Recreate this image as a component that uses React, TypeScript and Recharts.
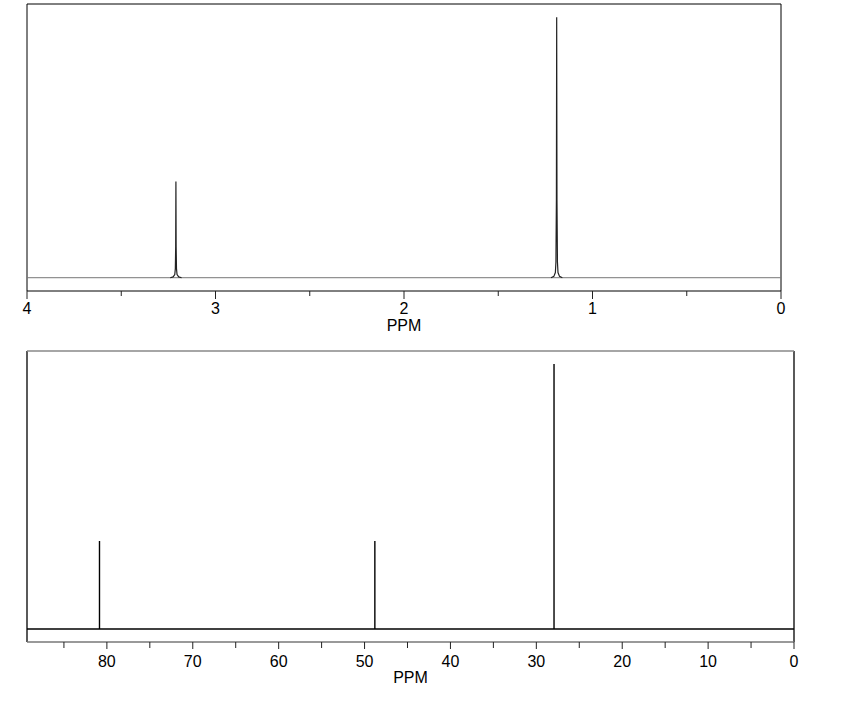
import React from 'react';
import { LineChart, Line, XAxis, YAxis, ReferenceLine } from 'recharts';

// 1H spectrum (ppm, relative intensity)
const hTicks = [4, 3.5, 3, 2.5, 2, 1.5, 1, 0.5, 0];
const hDomainX = [0, 4];
const hDomainY = [-5.1, 105.1];
const hBaseline = [
  { x: 4, y: 0 },
  { x: 0, y: 0 },
];
const hPeakA = [
  { x: 3.24, y: 0 },
  { x: 3.225, y: 0.3 },
  { x: 3.216, y: 1.2 },
  { x: 3.213, y: 3.5 },
  { x: 3.2112, y: 12 },
  { x: 3.21, y: 36.9 },
  { x: 3.2088, y: 12 },
  { x: 3.207, y: 3.5 },
  { x: 3.204, y: 1.2 },
  { x: 3.195, y: 0.3 },
  { x: 3.18, y: 0 },
];
const hPeakB = [
  { x: 1.22, y: 0 },
  { x: 1.205, y: 0.5 },
  { x: 1.197, y: 2 },
  { x: 1.194, y: 6 },
  { x: 1.1915, y: 30 },
  { x: 1.19, y: 100 },
  { x: 1.1885, y: 30 },
  { x: 1.186, y: 6 },
  { x: 1.183, y: 2 },
  { x: 1.175, y: 0.5 },
  { x: 1.16, y: 0 },
];

// 13C spectrum (ppm, relative intensity)
const cTicks = [85, 80, 75, 70, 65, 60, 55, 50, 45, 40, 35, 30, 25, 20, 15, 10, 5, 0];
const cDomainX = [0, 89.3];
const cDomainY = [-4.9, 104.9];
const cBaseline = [
  { x: 89.3, y: 0 },
  { x: 0, y: 0 },
];
const cPeakA = [
  { x: 80.86, y: 0 },
  { x: 80.86, y: 33.2 },
];
const cPeakB = [
  { x: 48.8, y: 0 },
  { x: 48.8, y: 33.2 },
];
const cPeakC = [
  { x: 27.94, y: 0 },
  { x: 27.94, y: 100 },
];

const FONT = "'Liberation Sans', Arial, Helvetica, sans-serif";

const makeTick =
  (isMajor: (v: number) => boolean, majorLen: number, minorLen: number, textDy: number, fontSize: number) =>
  (props: any) => {
    const { x, y, payload } = props;
    const major = isMajor(payload.value);
    return (
      <g>
        <line x1={x} x2={x} y1={y} y2={y + (major ? majorLen : minorLen)} stroke="#222" strokeWidth={1} />
        {major && (
          <text x={x} y={y + textDy} textAnchor="middle" fontSize={fontSize} fontFamily={FONT} fill="#000">
            {payload.value}
          </text>
        )}
      </g>
    );
  };

const makeLabel = (dy: number, fontSize: number) => (props: any) => {
  const vb = props.viewBox || {};
  return (
    <text
      x={vb.x + vb.width / 2}
      y={vb.y + dy}
      textAnchor="middle"
      fontSize={fontSize}
      fontFamily={FONT}
      fill="#000"
    >
      PPM
    </text>
  );
};

const hTick = makeTick((v) => Math.abs(v % 1) < 1e-9, 8, 5, 23, 16);
const cTick = makeTick((v) => Math.abs(v % 10) < 1e-9, 7, 6, 24.5, 16);

export default function App() {
  return (
    <div style={{ position: 'absolute', left: 0, top: 0, width: 862, height: 712, background: '#fff' }}>
      <div style={{ position: 'absolute', left: 0, top: 0 }}>
        <LineChart width={862} height={340} margin={{ top: 4, left: 27, right: 81, bottom: 9 }}>
          <XAxis
            type="number"
            dataKey="x"
            domain={hDomainX}
            reversed
            ticks={hTicks}
            interval={0}
            allowDataOverflow
            height={40}
            tickSize={0}
            tickMargin={0}
            tickLine={false}
            axisLine={{ stroke: '#000', strokeWidth: 1 }}
            tick={hTick}
            label={makeLabel(40, 16)}
          />
          <YAxis type="number" domain={hDomainY} allowDataOverflow hide />
          <ReferenceLine x={hDomainX[1]} stroke="#000" strokeWidth={1} />
          <ReferenceLine x={hDomainX[0]} stroke="#000" strokeWidth={1} />
          <ReferenceLine y={hDomainY[1]} stroke="#000" strokeWidth={1} />
          <Line data={hBaseline} dataKey="y" type="linear" stroke="#777" strokeWidth={1} dot={false} activeDot={false} isAnimationActive={false} />
          <Line data={hPeakA} dataKey="y" type="linear" stroke="#222" strokeWidth={1.2} dot={false} activeDot={false} isAnimationActive={false} />
          <Line data={hPeakB} dataKey="y" type="linear" stroke="#222" strokeWidth={1.2} dot={false} activeDot={false} isAnimationActive={false} />
        </LineChart>
      </div>
      <div style={{ position: 'absolute', left: 0, top: 340 }}>
        <LineChart width={862} height={372} margin={{ top: 11, left: 27, right: 68, bottom: 30 }}>
          <XAxis
            type="number"
            dataKey="x"
            domain={cDomainX}
            reversed
            ticks={cTicks}
            interval={0}
            allowDataOverflow
            height={40}
            tickSize={0}
            tickMargin={0}
            tickLine={false}
            axisLine={{ stroke: '#777', strokeWidth: 1.3 }}
            tick={cTick}
            label={makeLabel(41, 16)}
          />
          <YAxis type="number" domain={cDomainY} allowDataOverflow hide />
          <ReferenceLine x={cDomainX[1]} stroke="#000" strokeWidth={1.3} />
          <ReferenceLine x={cDomainX[0]} stroke="#000" strokeWidth={1.3} />
          <ReferenceLine y={cDomainY[1]} stroke="#888" strokeWidth={1.3} />
          <Line data={cBaseline} dataKey="y" type="linear" stroke="#000" strokeWidth={1.4} dot={false} activeDot={false} isAnimationActive={false} />
          <Line data={cPeakA} dataKey="y" type="linear" stroke="#000" strokeWidth={1.4} dot={false} activeDot={false} isAnimationActive={false} />
          <Line data={cPeakB} dataKey="y" type="linear" stroke="#000" strokeWidth={1.4} dot={false} activeDot={false} isAnimationActive={false} />
          <Line data={cPeakC} dataKey="y" type="linear" stroke="#000" strokeWidth={1.4} dot={false} activeDot={false} isAnimationActive={false} />
        </LineChart>
      </div>
    </div>
  );
}
